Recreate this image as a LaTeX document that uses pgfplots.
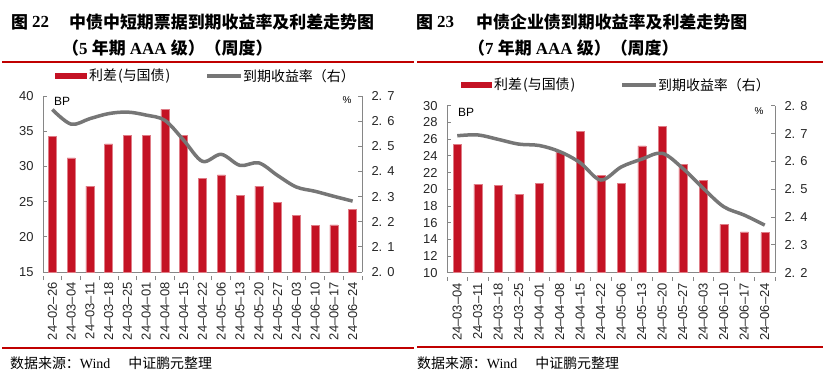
\documentclass[border=0pt]{standalone}
\usepackage{pgfplots}
\pgfplotsset{compat=1.18}
\usepackage{fontspec}
\setmainfont{Liberation Sans}
\newfontfamily\cjk{Noto Sans CJK SC}
\newfontfamily\ser{Liberation Serif}
\definecolor{barred}{RGB}{196,18,36}
\definecolor{rulered}{RGB}{192,0,0}
\definecolor{linegray}{RGB}{118,118,118}
\definecolor{axgray}{RGB}{134,134,134}
\newcommand\dd[1]{2.\hspace{5bp}#1}
\pgfplotsset{
  common/.style={
    scale only axis,
    /pgf/number format/assume math mode=true,
    axis line style={draw=axgray, line width=1bp},
    tick style={draw=axgray, line width=0.8bp},
    major tick length=4bp,
    minor tick length=4bp,
    ticklabel style={font=\fontsize{13}{13}\selectfont, text=black!85},
  },
  barax/.style={
    axis x line*=bottom, axis y line*=left,
    tick align=inside,
    major x tick style={draw=none},
    minor x tick style={yshift=-4bp},
    xticklabel style={rotate=90, anchor=east},
    xticklabel shift=3bp,
    yticklabel shift=6bp,
    ybar, bar width=8bp,
  },
  lineax/.style={
    axis y line*=right, axis x line=none,
    tick align=inside,
    yticklabel shift=6bp,
  },
}
\begin{document}
\begin{tikzpicture}
\path[use as bounding box] (0,0) rectangle (831bp,-379bp);
% ---------- titles ----------
\node[anchor=west, inner sep=0] at (11bp,-22bp) {\fontsize{17}{17}\selectfont\bfseries\cjk 图};
\node[anchor=west, inner sep=0] at (32bp,-22bp) {\fontsize{17}{17}\selectfont\bfseries\ser 22};
\node[anchor=west, inner sep=0] at (69bp,-22bp) {\fontsize{17}{17}\selectfont\bfseries\cjk 中债中短期票据到期收益率及利差走势图};
\node[anchor=west, inner sep=0] at (62bp,-48bp) {\fontsize{17}{17}\selectfont\bfseries{\cjk （}{\ser 5 }{\cjk 年期}{\ser\ AAA }{\cjk 级）（周度）}};
\node[anchor=west, inner sep=0] at (416bp,-22bp) {\fontsize{17}{17}\selectfont\bfseries\cjk 图};
\node[anchor=west, inner sep=0] at (437bp,-22bp) {\fontsize{17}{17}\selectfont\bfseries\ser 23};
\node[anchor=west, inner sep=0] at (476bp,-22bp) {\fontsize{17}{17}\selectfont\bfseries\cjk 中债企业债到期收益率及利差走势图};
\node[anchor=west, inner sep=0] at (468bp,-48bp) {\fontsize{17}{17}\selectfont\bfseries{\cjk （}{\ser 7 }{\cjk 年期}{\ser\ AAA }{\cjk 级）（周度）}};
\draw[rulered, line width=1.6bp] (2bp,-62bp) -- (414bp,-62bp);
\draw[rulered, line width=1.6bp] (417bp,-62bp) -- (823bp,-62bp);
\draw[rulered, line width=1.6bp] (2bp,-348bp) -- (414bp,-348bp);
\draw[rulered, line width=1.6bp] (417bp,-347bp) -- (823bp,-347bp);
\node[anchor=west, inner sep=0] at (10bp,-363bp) {\fontsize{14}{14}\selectfont{\cjk 数据来源：}{\ser Wind}\hspace{18bp}{\cjk 中证鹏元整理}};
\node[anchor=west, inner sep=0] at (417bp,-363bp) {\fontsize{14}{14}\selectfont{\cjk 数据来源：}{\ser Wind}\hspace{18bp}{\cjk 中证鹏元整理}};
% ---------- legends ----------
\fill[barred] (55bp,-73bp) rectangle (87bp,-79bp);
\node[anchor=west, inner sep=0] at (89bp,-76bp) {\fontsize{14}{14}\selectfont\cjk 利差\hspace{1bp}(与国债\hspace{1bp})};
\draw[linegray, line width=3.5bp] (207bp,-76bp) -- (241bp,-76bp);
\node[anchor=west, inner sep=0] at (243bp,-76bp) {\fontsize{14}{14}\selectfont\cjk 到期收益率（右）};
\fill[barred] (461bp,-82bp) rectangle (492bp,-88bp);
\node[anchor=west, inner sep=0] at (494bp,-85bp) {\fontsize{14}{14}\selectfont\cjk 利差\hspace{1bp}(与国债\hspace{1bp})};
\draw[linegray, line width=3.5bp] (622bp,-85bp) -- (656bp,-85bp);
\node[anchor=west, inner sep=0] at (658bp,-85bp) {\fontsize{14}{14}\selectfont\cjk 到期收益率（右）};
% ---------- left chart ----------
\begin{axis}[common, barax, at={(43bp,-272bp)}, anchor=south west,
  width=319bp, height=176bp,
  xmin=-0.5, xmax=16.5, ymin=15, ymax=40, ytick={15,20,25,30,35,40},
  xtick={0,...,16},
  minor xtick={-0.5,0.5,...,16.5},
  xticklabels={24--02--26,24--03--04,24--03--11,24--03--18,24--03--25,24--04--01,24--04--08,24--04--15,24--04--22,24--05--06,24--05--13,24--05--20,24--05--27,24--06--03,24--06--10,24--06--17,24--06--24},
]
\addplot[fill=barred, draw=barred!55!white, line width=0.5bp] coordinates {
(0,34.3) (1,31.2) (2,27.2) (3,33.2) (4,34.4) (5,34.4) (6,38.1) (7,34.4) (8,28.3)
(9,28.8) (10,25.9) (11,27.2) (12,24.9) (13,23.0) (14,21.6) (15,21.7) (16,23.9)};
\end{axis}
\begin{axis}[common, lineax, at={(43bp,-272bp)}, anchor=south west,
  width=319bp, height=176bp,
  xmin=-0.5, xmax=16.5, ymin=2.0, ymax=2.7,
  ytick={2.0,2.1,2.2,2.3,2.4,2.5,2.6,2.7},
  yticklabels={\dd0,\dd1,\dd2,\dd3,\dd4,\dd5,\dd6,\dd7},
]
\addplot[linegray, line width=3.5bp, smooth, tension=0.55] coordinates {
(0,2.646) (1,2.588) (2,2.610) (3,2.630) (4,2.636) (5,2.624) (6,2.603) (7,2.524) (8,2.440)
(9,2.468) (10,2.424) (11,2.434) (12,2.384) (13,2.338) (14,2.321) (15,2.301) (16,2.282)};
\end{axis}
\node[anchor=west, inner sep=0] at (54bp,-101bp) {\fontsize{12}{12}\selectfont BP};
\node[anchor=center, inner sep=0] at (347bp,-100bp) {\fontsize{10}{10}\selectfont\%};
% ---------- right chart ----------
\begin{axis}[common, barax, at={(447bp,-272.7bp)}, anchor=south west,
  width=328bp, height=167bp,
  xmin=-0.5, xmax=15.5, ymin=10, ymax=30, ytick={10,12,...,30},
  xtick={0,...,15},
  minor xtick={-0.5,0.5,...,15.5},
  xticklabels={24--03--04,24--03--11,24--03--18,24--03--25,24--04--01,24--04--08,24--04--15,24--04--22,24--05--06,24--05--13,24--05--20,24--05--27,24--06--03,24--06--10,24--06--17,24--06--24},
]
\addplot[fill=barred, draw=barred!55!white, line width=0.5bp] coordinates {
(0,25.4) (1,20.6) (2,20.5) (3,19.4) (4,20.7) (5,24.4) (6,26.9) (7,21.7)
(8,20.7) (9,25.2) (10,27.5) (11,23.0) (12,21.1) (13,15.8) (14,14.9) (15,14.8)};
\end{axis}
\begin{axis}[common, lineax, at={(447bp,-272.7bp)}, anchor=south west,
  width=328bp, height=167bp,
  xmin=-0.5, xmax=15.5, ymin=2.2, ymax=2.8,
  ytick={2.2,2.3,2.4,2.5,2.6,2.7,2.8},
  yticklabels={\dd2,\dd3,\dd4,\dd5,\dd6,\dd7,\dd8},
]
\addplot[linegray, line width=3.5bp, smooth, tension=0.55] coordinates {
(0,2.692) (1,2.695) (2,2.679) (3,2.662) (4,2.657) (5,2.635) (6,2.595) (7,2.533)
(8,2.580) (9,2.608) (10,2.629) (11,2.575) (12,2.503) (13,2.437) (14,2.407) (15,2.371)};
\end{axis}
\node[anchor=west, inner sep=0] at (458bp,-112bp) {\fontsize{12}{12}\selectfont BP};
\node[anchor=center, inner sep=0] at (759bp,-111bp) {\fontsize{10}{10}\selectfont\%};
\end{tikzpicture}
\end{document}
